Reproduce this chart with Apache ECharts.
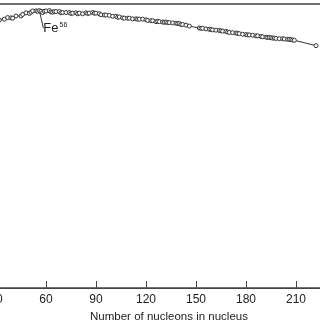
<!DOCTYPE html>
<html>
<head>
<meta charset="utf-8">
<script src="https://cdn.jsdelivr.net/npm/echarts@6/dist/echarts.min.js"></script>
<style>
html, body { margin: 0; padding: 0; background: #fff; }
#chart { width: 320px; height: 320px; }
</style>
</head>
<body>
<div id="chart"></div>
<script>
// mass number A and binding energy per nucleon (MeV)
var massNumbers = [20, 24, 27, 28, 31, 32, 35, 37, 39, 40, 42, 45, 46, 48, 50, 51, 52, 54, 55, 56, 57, 58, 59, 60, 62, 63, 64, 65, 66, 68, 69, 70, 72, 74, 75, 76, 78, 79, 80, 82, 84, 85, 86, 88, 89, 90, 92, 93, 95, 96, 98, 100, 102, 103, 104, 106, 107, 109, 110, 112, 114, 115, 116, 118, 120, 121, 123, 124, 126, 127, 128, 130, 131, 132, 133, 134, 136, 138, 139, 140, 141, 142, 144, 146, 152, 153, 154, 156, 158, 159, 160, 162, 164, 165, 166, 168, 169, 170, 172, 174, 175, 176, 178, 180, 181, 182, 184, 186, 187, 189, 190, 192, 193, 194, 195, 196, 197, 198, 200, 202, 203, 205, 206, 207, 208, 209, 222];
var bindingEnergy = [8.03, 8.26, 8.33, 8.45, 8.48, 8.49, 8.52, 8.57, 8.56, 8.55, 8.62, 8.62, 8.67, 8.72, 8.70, 8.74, 8.78, 8.78, 8.77, 8.79, 8.77, 8.73, 8.77, 8.78, 8.79, 8.75, 8.74, 8.76, 8.76, 8.76, 8.72, 8.73, 8.73, 8.73, 8.70, 8.71, 8.72, 8.69, 8.71, 8.69, 8.72, 8.70, 8.71, 8.73, 8.71, 8.71, 8.69, 8.66, 8.65, 8.65, 8.64, 8.61, 8.61, 8.58, 8.59, 8.56, 8.55, 8.55, 8.55, 8.53, 8.53, 8.52, 8.52, 8.52, 8.50, 8.48, 8.47, 8.47, 8.44, 8.45, 8.44, 8.43, 8.42, 8.43, 8.41, 8.41, 8.40, 8.39, 8.38, 8.38, 8.35, 8.35, 8.33, 8.30, 8.24, 8.23, 8.23, 8.21, 8.20, 8.19, 8.18, 8.17, 8.16, 8.15, 8.14, 8.13, 8.11, 8.10, 8.09, 8.08, 8.07, 8.06, 8.04, 8.03, 8.02, 8.02, 8.01, 7.99, 7.99, 7.97, 7.96, 7.95, 7.94, 7.94, 7.93, 7.92, 7.92, 7.91, 7.90, 7.90, 7.89, 7.88, 7.88, 7.87, 7.86, 7.85, 7.68];
var xTicks = { min: 0, max: 270, step: 30 };
var yRange = { min: 0, max: 9 };
var labelledA = 56;

var points = massNumbers.map(function (a, i) {
    var item = { value: [a, bindingEnergy[i]] };
    if (a === labelledA) {
        item.label = {
            show: true,
            position: 'bottom',
            formatter: 'Fe{s|' + a + '}',
            color: '#222',
            fontSize: 13,
            fontFamily: 'Liberation Sans',
            rich: { s: { fontSize: 7, verticalAlign: 'top', padding: [0, 0, 8, 1], fontFamily: 'Liberation Sans', color: '#222' } }
        };
        item.labelLine = { show: true, lineStyle: { color: '#333', width: 1 } };
    }
    return item;
});

var chart = echarts.init(document.getElementById('chart'), null, { renderer: 'canvas' });
chart.setOption({
    animation: false,
    grid: {
        left: -54,
        right: -76,
        top: 4,
        bottom: 32,
        outerBoundsMode: 'none',
        containLabel: false,
        show: true,
        borderColor: '#444',
        borderWidth: 1.5
    },
    xAxis: {
        type: 'value',
        min: xTicks.min,
        max: xTicks.max,
        interval: xTicks.step,
        name: 'Number of nucleons in nucleus',
        nameLocation: 'middle',
        nameGap: 20,
        nameTextStyle: { fontSize: 11.5, color: '#222', fontFamily: 'Liberation Sans', padding: [0, 4, 0, 0] },
        axisLine: { lineStyle: { color: '#444', width: 1 } },
        axisTick: { inside: true, length: 7, lineStyle: { color: '#444' } },
        axisLabel: { fontSize: 12, color: '#222', margin: 6, fontFamily: 'Liberation Sans' },
        splitLine: { show: false }
    },
    yAxis: {
        type: 'value',
        min: yRange.min,
        max: yRange.max,
        interval: 1,
        axisLine: { show: true, lineStyle: { color: '#444' } },
        axisTick: { show: false },
        axisLabel: { show: false },
        splitLine: { show: false }
    },
    series: [{
        type: 'line',
        data: points,
        symbol: 'circle',
        symbolSize: 4,
        showAllSymbol: true,
        itemStyle: { color: '#fff', borderColor: '#333', borderWidth: 1 },
        lineStyle: { color: '#333', width: 1 },
        labelLayout: function (p) {
            return { dx: 16, dy: 3 };
        }
    }]
});
window.addEventListener('resize', function () {
    chart.resize();
});
</script>
</body>
</html>
